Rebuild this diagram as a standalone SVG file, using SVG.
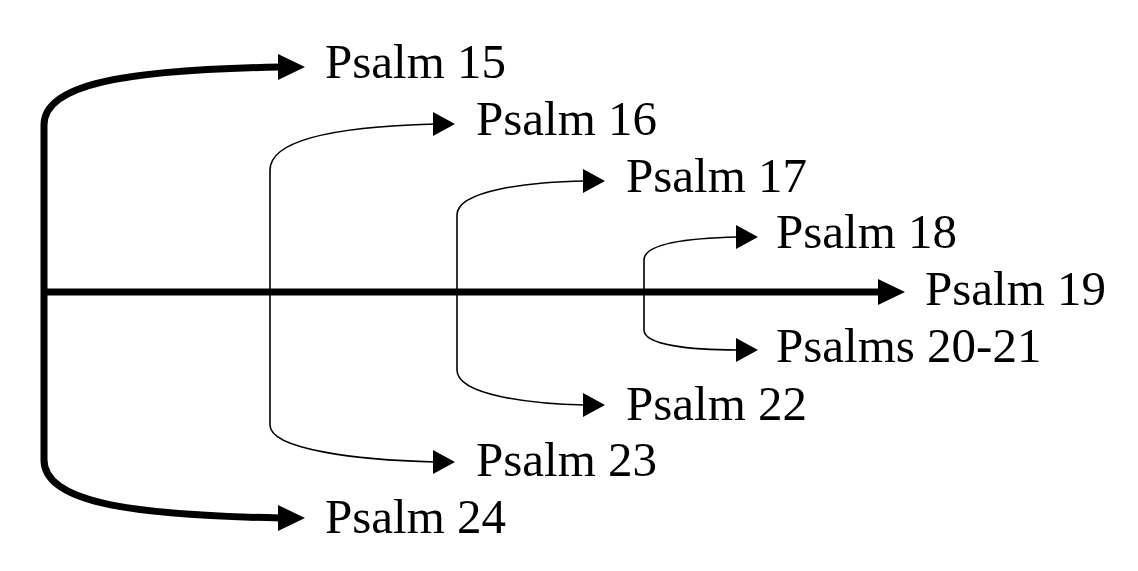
<svg xmlns="http://www.w3.org/2000/svg" width="1138" height="571" viewBox="0 0 1138 571">
<style>
text{font-family:"Liberation Serif","Times New Roman","DejaVu Serif",serif;font-size:49px;fill:#000}
.k{fill:none;stroke:#000;stroke-width:7}
.t{fill:none;stroke:#000;stroke-width:1.6}
.hk{fill:#000}
</style>
<rect width="1138" height="571" fill="#fff"/>
<g id="connectors">
<path class="k" d="M44,460 L44,125 C44,85 120,70 280,67"/>
<path class="k" d="M44,460 C44,500 120,515 280,518"/>
<path class="k" d="M44,292 L880,292"/>
<polygon class="hk" points="278,54 305,67 278,80"/>
<polygon class="hk" points="278,505 305,518 278,531"/>
<polygon class="hk" points="878,279 905,292 878,305"/>
<path class="t" d="M270,425 L270,170 C270,135 360,126 435,124"/>
<path class="t" d="M270,425 C270,450 360,460 435,462"/>
<polygon class="hk" points="433,112 455,124 433,136"/>
<polygon class="hk" points="433,450 455,462 433,474"/>
<path class="t" d="M457,370 L457,215 C457,190 530,182 585,181"/>
<path class="t" d="M457,370 C457,395 530,404 585,405"/>
<polygon class="hk" points="583,169 605,181 583,193"/>
<polygon class="hk" points="583,393 605,405 583,417"/>
<path class="t" d="M644,330 L644,260 C644,243 690,238 738,237"/>
<path class="t" d="M644,330 C644,345 690,350 738,350"/>
<polygon class="hk" points="736,225 758,237 736,249"/>
<polygon class="hk" points="736,338 758,350 736,362"/>
</g>
<g id="n15"><text x="325" y="78">Psalm 15</text></g>
<g id="n16"><text x="476" y="135">Psalm 16</text></g>
<g id="n17"><text x="626" y="192">Psalm 17</text></g>
<g id="n18"><text x="776" y="248">Psalm 18</text></g>
<g id="n19"><text x="925" y="305">Psalm 19</text></g>
<g id="n20"><text x="776" y="362">Psalms 20-21</text></g>
<g id="n22"><text x="626" y="420">Psalm 22</text></g>
<g id="n23"><text x="476" y="476">Psalm 23</text></g>
<g id="n24"><text x="325" y="533">Psalm 24</text></g>
</svg>
